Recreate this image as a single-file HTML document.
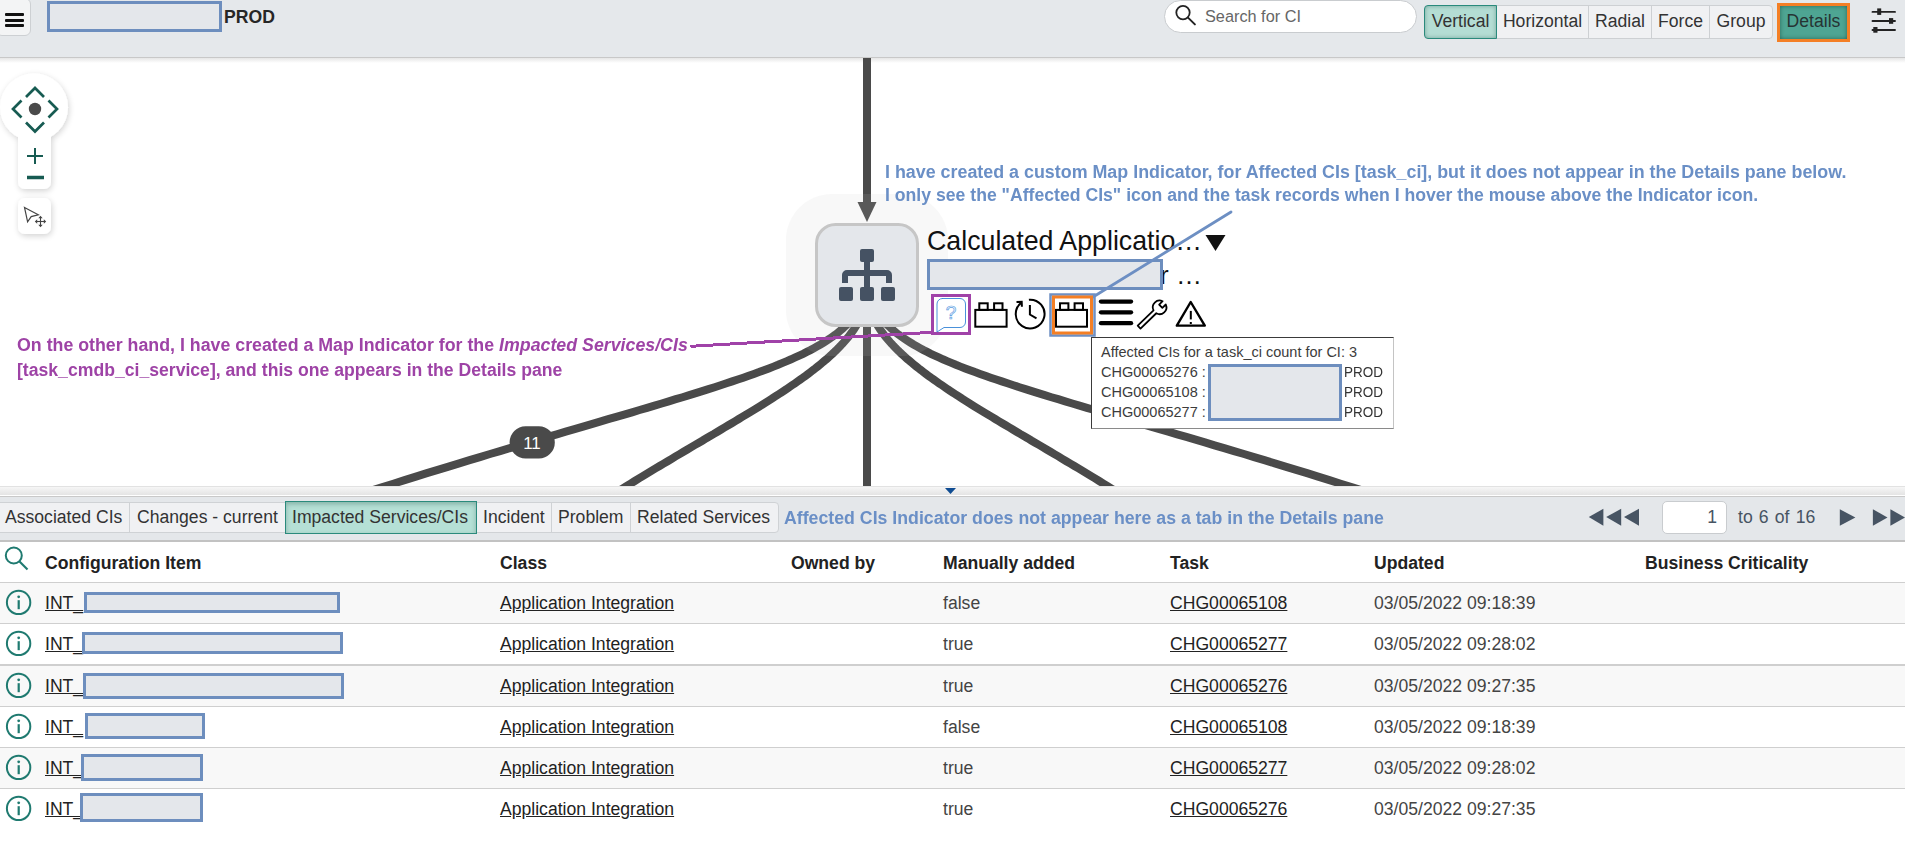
<!DOCTYPE html>
<html><head><meta charset="utf-8">
<style>
*{box-sizing:border-box}
html,body{margin:0;padding:0}
body{width:1905px;height:859px;overflow:hidden;position:relative;background:#fff;font-family:"Liberation Sans",sans-serif;color:#333}
.a{position:absolute}
#hdr{left:0;top:0;width:1905px;height:58px;background:#e5e8eb;border-bottom:1px solid #c8c8c8}
.redact{position:absolute;border:3px solid #6d8ebe;background:#e4e7eb}
.btn{position:absolute;top:5px;height:34px;font-size:17.6px;line-height:32px;color:#333;text-align:center}
.tab{position:absolute;top:502px;height:31px;font-size:17.6px;line-height:30px;color:#333;white-space:nowrap}
.th{position:absolute;top:552.6px;font-size:17.6px;font-weight:bold;color:#222;line-height:20px;white-space:nowrap}
.td{position:absolute;font-size:17.6px;color:#444;line-height:20px;white-space:nowrap}
.u{text-decoration:underline;color:#222}
.row{position:absolute;left:0;width:1905px;height:41px;border-bottom:1px solid #cfcfcf}
.ann{font-size:18px;font-weight:bold;line-height:24px;white-space:nowrap;transform-origin:0 0}
</style></head><body>
<div id="hdr" class="a"></div>
<!-- hamburger -->
<div class="a" style="left:-4px;top:-2px;width:35px;height:38px;background:#f3f4f5;border:1px solid #cdd0d3;border-radius:6px"></div>
<div class="a" style="left:5px;top:13px;width:19px;height:3px;background:#111;border-radius:1px"></div>
<div class="a" style="left:5px;top:19px;width:19px;height:3px;background:#111;border-radius:1px"></div>
<div class="a" style="left:5px;top:24px;width:19px;height:3px;background:#111;border-radius:1px"></div>
<div class="redact" style="left:47px;top:1px;width:175px;height:31px"></div>
<div class="a" style="left:224px;top:7px;font-size:17.6px;font-weight:bold;color:#262626;line-height:20px">PROD</div>
<!-- search -->
<div class="a" style="left:1164px;top:0px;width:253px;height:33px;background:#fff;border:1px solid #c9cccf;border-radius:17px"></div>
<svg class="a" style="left:1170px;top:2px" width="32" height="28"><circle cx="13" cy="10.6" r="6.7" fill="none" stroke="#222" stroke-width="1.8"/><line x1="18" y1="15.6" x2="24.9" y2="22.4" stroke="#222" stroke-width="2" stroke-linecap="round"/></svg>
<div class="a" style="left:1205px;top:6.4px;font-size:16.3px;line-height:20px;color:#666">Search for CI</div>
<!-- layout buttons -->
<div class="a" style="left:1424px;top:5px;width:349px;height:34px;background:#f0f1f3;border:1px solid #cdd0d3;border-radius:4px"></div>
<div class="a" style="left:1424px;top:5px;width:73px;height:34px;background:#b4ddd4;border:1px solid #2a8a7c;border-radius:4px 0 0 4px;box-shadow:inset 0 0 4px rgba(0,60,50,.35)"></div>
<div class="a" style="left:1588px;top:6px;width:1px;height:32px;background:#cdd0d3"></div>
<div class="a" style="left:1651px;top:6px;width:1px;height:32px;background:#cdd0d3"></div>
<div class="a" style="left:1709px;top:6px;width:1px;height:32px;background:#cdd0d3"></div>
<div class="btn" style="left:1424px;width:73px">Vertical</div>
<div class="btn" style="left:1497px;width:91px">Horizontal</div>
<div class="btn" style="left:1589px;width:62px">Radial</div>
<div class="btn" style="left:1652px;width:57px">Force</div>
<div class="btn" style="left:1710px;width:62px">Group</div>
<div class="a" style="left:1777px;top:3px;width:73px;height:39px;border:3px solid #f47f25;background:#4ea593;box-shadow:inset 0 0 4px rgba(0,40,30,.5)"></div>
<div class="btn" style="left:1777px;width:73px;top:5px;color:#263433">Details</div>
<!-- settings icon -->
<svg class="a" style="left:1868px;top:6px" width="32" height="30">
<g stroke="#222" stroke-width="1.9" stroke-linecap="round"><line x1="4.5" y1="5.9" x2="27" y2="5.9"/><line x1="4.5" y1="15" x2="27" y2="15"/><line x1="4.5" y1="24" x2="27" y2="24"/></g>
<g fill="#222"><rect x="9.2" y="2.4" width="4" height="6.5"/><rect x="21" y="12.1" width="4.2" height="5.7"/><rect x="5.3" y="21" width="4.2" height="5.7"/></g>
</svg>

<!-- graph -->
<svg class="a" style="left:0;top:0" width="1905" height="486" viewBox="0 0 1905 486">
<defs><clipPath id="gc"><rect x="0" y="58" width="1905" height="428"/></clipPath>
<filter id="sh" x="-30%" y="-30%" width="160%" height="160%"><feGaussianBlur in="SourceAlpha" stdDeviation="3"/><feOffset dx="1" dy="2"/><feComponentTransfer><feFuncA type="linear" slope="0.18"/></feComponentTransfer><feMerge><feMergeNode/><feMergeNode in="SourceGraphic"/></feMerge></filter>
</defs>
<g clip-path="url(#gc)">
<defs><linearGradient id="hs" x1="0" y1="0" x2="0" y2="1"><stop offset="0" stop-color="#e6e6e6"/><stop offset="1" stop-color="#fff"/></linearGradient></defs><rect x="0" y="58" width="1905" height="5" fill="url(#hs)"/>
<g fill="none" stroke="#4a4a4a" stroke-width="8"><path d="M867.0,275.0 L867.0,277.9 L866.8,280.8 L866.6,283.6 L866.2,286.4 L865.8,289.1 L865.2,291.7 L864.6,294.3 L863.9,296.9 L863.0,299.4 L862.1,301.9 L861.0,304.3 L859.9,306.7 L858.6,309.1 L857.2,311.4 L855.8,313.7 L854.2,315.9 L852.5,318.1 L850.7,320.3 L848.8,322.5 L846.8,324.6 L844.7,326.7 L842.5,328.7 L840.1,330.8 L837.7,332.8 L835.1,334.8 L832.4,336.7 L829.6,338.7 L826.7,340.6 L823.7,342.5 L820.5,344.5 L817.3,346.3 L813.9,348.2 L810.4,350.1 L806.8,351.9 L803.1,353.8 L799.2,355.6 L795.2,357.4 L791.1,359.3 L786.9,361.1 L782.6,362.9 L778.1,364.8 L773.5,366.6 L768.8,368.4 L764.0,370.2 L759.0,372.1 L753.9,373.9 L748.7,375.8 L743.3,377.7 L737.8,379.5 L732.2,381.4 L726.5,383.3 L720.6,385.2 L714.6,387.2 L708.5,389.1 L702.2,391.1 L695.8,393.1 L689.3,395.1 L682.6,397.2 L675.8,399.2 L668.8,401.3 L661.7,403.5 L654.5,405.6 L647.1,407.8 L639.6,410.0 L632.0,412.3 L624.2,414.6 L616.3,416.9 L608.2,419.2 L600.0,421.6 L591.6,424.1 L583.1,426.6 L574.5,429.1 L565.7,431.7 L556.8,434.3 L547.7,436.9 L538.4,439.7 L529.1,442.4 L519.5,445.3 L509.9,448.1 L500.0,451.1 L490.0,454.0 L479.9,457.1 L469.6,460.2 L459.2,463.3 L448.6,466.6 L437.8,469.9 L426.9,473.2 L415.9,476.6 L404.6,480.1 L393.3,483.7 L381.7,487.3 L370.0,491.0 L358.2,494.8 L346.2,498.6 L334.0,502.5 L321.7,506.5 L309.2,510.6 L296.5,514.8 L283.7,519.0 L93.8,581.8"/><path d="M867.0,290.0 L867.0,292.1 L866.9,294.1 L866.7,296.1 L866.5,298.2 L866.2,300.2 L865.8,302.2 L865.4,304.2 L864.9,306.2 L864.3,308.1 L863.7,310.1 L863.0,312.0 L862.2,314.0 L861.4,315.9 L860.5,317.9 L859.6,319.8 L858.6,321.7 L857.5,323.6 L856.4,325.5 L855.2,327.4 L854.0,329.3 L852.7,331.2 L851.3,333.0 L849.9,334.9 L848.5,336.8 L846.9,338.7 L845.4,340.5 L843.7,342.4 L842.0,344.2 L840.3,346.1 L838.5,348.0 L836.6,349.8 L834.7,351.7 L832.8,353.5 L830.8,355.4 L828.7,357.2 L826.6,359.1 L824.4,360.9 L822.2,362.8 L820.0,364.7 L817.7,366.5 L815.3,368.4 L812.9,370.2 L810.5,372.1 L808.0,374.0 L805.4,375.9 L802.8,377.8 L800.2,379.6 L797.5,381.5 L794.8,383.4 L792.0,385.3 L789.2,387.2 L786.4,389.2 L783.5,391.1 L780.5,393.0 L777.6,395.0 L774.5,396.9 L771.5,398.9 L768.4,400.8 L765.2,402.8 L762.1,404.8 L758.9,406.8 L755.6,408.8 L752.3,410.8 L749.0,412.8 L745.6,414.9 L742.2,416.9 L738.8,419.0 L735.3,421.1 L731.8,423.2 L728.3,425.3 L724.7,427.4 L721.2,429.5 L717.5,431.7 L713.9,433.9 L710.2,436.0 L706.4,438.2 L702.7,440.5 L698.9,442.7 L695.1,444.9 L691.3,447.2 L687.4,449.5 L683.5,451.8 L679.6,454.1 L675.6,456.4 L671.7,458.8 L667.7,461.2 L663.6,463.6 L659.6,466.0 L655.5,468.4 L651.4,470.9 L647.3,473.4 L643.2,475.9 L639.0,478.4 L634.8,481.0 L630.6,483.6 L626.4,486.2 L622.1,488.8 L617.9,491.4 L613.6,494.1 L443.9,600.0"/><path d="M867.0,275.0 L867.0,277.9 L867.2,280.8 L867.4,283.6 L867.8,286.4 L868.2,289.1 L868.8,291.7 L869.4,294.3 L870.1,296.9 L871.0,299.4 L871.9,301.9 L873.0,304.3 L874.1,306.7 L875.4,309.1 L876.8,311.4 L878.2,313.7 L879.8,315.9 L881.5,318.1 L883.3,320.3 L885.2,322.5 L887.2,324.6 L889.3,326.7 L891.5,328.7 L893.9,330.8 L896.3,332.8 L898.9,334.8 L901.6,336.7 L904.4,338.7 L907.3,340.6 L910.3,342.5 L913.5,344.5 L916.7,346.3 L920.1,348.2 L923.6,350.1 L927.2,351.9 L930.9,353.8 L934.8,355.6 L938.8,357.4 L942.9,359.3 L947.1,361.1 L951.4,362.9 L955.9,364.8 L960.5,366.6 L965.2,368.4 L970.0,370.2 L975.0,372.1 L980.1,373.9 L985.3,375.8 L990.7,377.7 L996.2,379.5 L1001.8,381.4 L1007.5,383.3 L1013.4,385.2 L1019.4,387.2 L1025.5,389.1 L1031.8,391.1 L1038.2,393.1 L1044.7,395.1 L1051.4,397.2 L1058.2,399.2 L1065.2,401.3 L1072.3,403.5 L1079.5,405.6 L1086.9,407.8 L1094.4,410.0 L1102.0,412.3 L1109.8,414.6 L1117.7,416.9 L1125.8,419.2 L1134.0,421.6 L1142.4,424.1 L1150.9,426.6 L1159.5,429.1 L1168.3,431.7 L1177.2,434.3 L1186.3,436.9 L1195.6,439.7 L1204.9,442.4 L1214.5,445.3 L1224.1,448.1 L1234.0,451.1 L1244.0,454.0 L1254.1,457.1 L1264.4,460.2 L1274.8,463.3 L1285.4,466.6 L1296.2,469.9 L1307.1,473.2 L1318.1,476.6 L1329.4,480.1 L1340.7,483.7 L1352.3,487.3 L1364.0,491.0 L1375.8,494.8 L1387.8,498.6 L1400.0,502.5 L1412.3,506.5 L1424.8,510.6 L1437.5,514.8 L1450.3,519.0 L1640.2,581.8"/><path d="M867.0,290.0 L867.0,292.1 L867.1,294.1 L867.3,296.1 L867.5,298.2 L867.8,300.2 L868.2,302.2 L868.6,304.2 L869.1,306.2 L869.7,308.1 L870.3,310.1 L871.0,312.0 L871.8,314.0 L872.6,315.9 L873.5,317.9 L874.4,319.8 L875.4,321.7 L876.5,323.6 L877.6,325.5 L878.8,327.4 L880.0,329.3 L881.3,331.2 L882.7,333.0 L884.1,334.9 L885.5,336.8 L887.1,338.7 L888.6,340.5 L890.3,342.4 L892.0,344.2 L893.7,346.1 L895.5,348.0 L897.4,349.8 L899.3,351.7 L901.2,353.5 L903.2,355.4 L905.3,357.2 L907.4,359.1 L909.6,360.9 L911.8,362.8 L914.0,364.7 L916.3,366.5 L918.7,368.4 L921.1,370.2 L923.5,372.1 L926.0,374.0 L928.6,375.9 L931.2,377.8 L933.8,379.6 L936.5,381.5 L939.2,383.4 L942.0,385.3 L944.8,387.2 L947.6,389.2 L950.5,391.1 L953.5,393.0 L956.4,395.0 L959.5,396.9 L962.5,398.9 L965.6,400.8 L968.8,402.8 L971.9,404.8 L975.1,406.8 L978.4,408.8 L981.7,410.8 L985.0,412.8 L988.4,414.9 L991.8,416.9 L995.2,419.0 L998.7,421.1 L1002.2,423.2 L1005.7,425.3 L1009.3,427.4 L1012.8,429.5 L1016.5,431.7 L1020.1,433.9 L1023.8,436.0 L1027.6,438.2 L1031.3,440.5 L1035.1,442.7 L1038.9,444.9 L1042.7,447.2 L1046.6,449.5 L1050.5,451.8 L1054.4,454.1 L1058.4,456.4 L1062.3,458.8 L1066.3,461.2 L1070.4,463.6 L1074.4,466.0 L1078.5,468.4 L1082.6,470.9 L1086.7,473.4 L1090.8,475.9 L1095.0,478.4 L1099.2,481.0 L1103.4,483.6 L1107.6,486.2 L1111.9,488.8 L1116.1,491.4 L1120.4,494.1 L1290.1,600.0"/><line x1="867" y1="300" x2="867" y2="500"/><line x1="867" y1="58" x2="867" y2="205"/></g>
<polygon points="857.5,202 876.5,202 867,222" fill="#4a4a4a"/>
<rect x="786" y="194" width="162" height="162" rx="46" fill="#c8c8c8" fill-opacity="0.127"/>
<rect x="816.5" y="224.5" width="101" height="101" rx="19" fill="#e4e7eb" stroke="#c6c6c6" stroke-width="3"/>
<g fill="#455263">
<rect x="860" y="249" width="14" height="13" rx="2"/>
<rect x="864" y="260" width="6" height="30"/>
<path d="M842,283 V275 a5,5 0 0 1 5,-5 H887 a5,5 0 0 1 5,5 V283 h-6 v-7 h-38 v7z"/>
<rect x="839" y="287" width="14" height="14" rx="2"/>
<rect x="860" y="287" width="14" height="14" rx="2"/>
<rect x="881" y="287" width="14" height="14" rx="2"/>
</g>
<rect x="509.6" y="426.3" width="45.2" height="32.2" rx="16" fill="#4a4a4a"/>
<text x="532" y="448.5" font-family="Liberation Sans" font-size="17" fill="#fff" text-anchor="middle">11</text>
</g>
<!-- nav control -->
<g filter="url(#sh)">
<circle cx="34" cy="107.3" r="34" fill="#fff"/>
<rect x="18" y="120" width="33" height="69" rx="7" fill="#fff"/>
<rect x="18" y="198" width="33" height="36" rx="7" fill="#fff"/>
</g>
<g fill="none" stroke="#175b52" stroke-width="2.7" stroke-linecap="butt">
<polyline points="26,97 35,88 44,97"/><polyline points="26,122.5 35,131.5 44,122.5"/>
<polyline points="21.5,100.5 13,109 21.5,117.5"/><polyline points="48.5,100.5 57,109 48.5,117.5"/>
<line x1="27" y1="156" x2="43" y2="156" stroke-width="2"/><line x1="35" y1="148" x2="35" y2="164" stroke-width="2"/>
<line x1="27" y1="177.5" x2="44" y2="177.5" stroke-width="3.5"/>
</g>
<circle cx="35" cy="109" r="6.2" fill="#4a4a4a"/>
<g fill="none" stroke="#444" stroke-width="1.2" stroke-linejoin="miter"><path d="M24.5,207.5 L38.3,214.8 L31.2,216.6 L27.6,221.8 Z"/></g>
<g stroke="#444" stroke-width="1.1" fill="#444"><line x1="36" y1="221.5" x2="45" y2="221.5"/><line x1="40.5" y1="217" x2="40.5" y2="226"/></g>
<path d="M40.5,215.8 l-2.2,2.4 h4.4z M40.5,227.2 l-2.2,-2.4 h4.4z M34.8,221.5 l2.4,-2.2 v4.4z M46.2,221.5 l-2.4,-2.2 v4.4z" fill="#444"/>
</svg>

<!-- node labels -->
<div class="a" id="ttl" style="left:927px;top:226px;font-size:26.75px;line-height:30px;color:#111;white-space:nowrap">Calculated Applicatio…</div>
<svg class="a" style="left:1204px;top:233px" width="24" height="20"><polygon points="1.5,2 21.5,2 11.5,18" fill="#111"/></svg>
<div class="a" style="left:1160px;top:263px;font-size:26px;line-height:24px;color:#111;white-space:nowrap">r …</div>
<div class="redact" style="left:927px;top:259px;width:236px;height:31px"></div>
<!-- indicator icons -->
<svg class="a" style="left:0;top:0" width="1905" height="486" viewBox="0 0 1905 486">
<g fill="none">
<path d="M1231,212 L1093,297" stroke="#6d8fc3" stroke-width="2.8" stroke-linecap="round"/>
<path d="M690.5,346.3 L932,332.3" stroke="#a042a8" stroke-width="3" shape-rendering="crispEdges"/>
<rect x="932.5" y="295.5" width="37" height="38" stroke="#a042a8" stroke-width="3" fill="#fff"/>
<path d="M942,298.5 H960 a5.5,5.5 0 0 1 5.5,5.5 V322 a5.5,5.5 0 0 1 -5.5,5.5 H944 L937,332 V304 a5.5,5.5 0 0 1 5.5,-5.5z" stroke="#3585d6" stroke-width="0.9"/>
<text x="951" y="319.3" font-family="Liberation Sans" font-size="19" text-anchor="middle" fill="#fff" stroke="#5b9de2" stroke-width="0.7">?</text>
<g stroke="#000" stroke-width="2">
<rect x="975.3" y="309.9" width="31.3" height="16.8"/><rect x="979.3" y="303.3" width="8.4" height="6.6"/><rect x="994.1" y="303.3" width="8.4" height="6.6"/>
</g>
<g stroke="#000" stroke-width="2">
<path d="M1028.9,299.7 A14.4,14.4 0 1 1 1021.4,302.6"/>
<path d="M1016.5,302 L1021.7,301.7 L1021.9,306.7"/>
<polyline points="1029.9,305 1029.9,314.5 1036.5,318.3"/>
</g>
<rect x="1050.5" y="294.5" width="44" height="41" stroke="#6f90c3" stroke-width="2.5"/>
<rect x="1053.5" y="297" width="38" height="36" stroke="#f47f25" stroke-width="3"/>
<g stroke="#000" stroke-width="2">
<rect x="1056" y="309.9" width="31" height="16.8"/><rect x="1060" y="303.3" width="8.4" height="6.6"/><rect x="1074.6" y="303.3" width="8.4" height="6.6"/>
</g>
<g stroke="#000" stroke-width="4.2" stroke-linecap="round">
<line x1="1100.9" y1="301.6" x2="1131.1" y2="301.6"/><line x1="1100.9" y1="312.3" x2="1131.1" y2="312.3"/><line x1="1100.9" y1="323.2" x2="1131.1" y2="323.2"/>
</g>
<g transform="translate(1159.6,307.3) rotate(-44)"><path d="M-28.5,2 L-6.5,2 A6.8,6.8 0 0 0 6.4,2.3 L1.6,2.3 L1.6,-2.3 L6.4,-2.3 A6.8,6.8 0 0 0 -6.5,-2 L-28.5,-2 Z" stroke="#000" stroke-width="1.8" stroke-linejoin="round" fill="#fff"/></g>
<path d="M1190.7,302 L1176.8,325.6 H1204.8 Z" stroke="#000" stroke-width="2.4" stroke-linejoin="round"/>
</g>
<rect x="1189.8" y="310.9" width="2" height="8.5" fill="#000"/><rect x="1189.8" y="322" width="2" height="2" fill="#000"/>
</svg>
<!-- annotations -->
<div class="a ann" id="a1" style="transform:scaleX(0.9923);left:885px;top:159.5px;color:#6a8fc6">I have created a custom Map Indicator, for Affected CIs [task_ci], but it does not appear in the Details pane below.</div>
<div class="a ann" id="a2" style="transform:scaleX(0.9797);left:885px;top:183.4px;color:#6a8fc6">I only see the "Affected CIs" icon and the task records when I hover the mouse above the Indicator icon.</div>
<div class="a ann" id="a3" style="transform:scaleX(0.9876);left:17px;top:333.3px;color:#9e43a6">On the other hand, I have created a Map Indicator for the <i>Impacted Services/CIs</i></div>
<div class="a ann" id="a4" style="transform:scaleX(0.9786);left:17px;top:357.5px;color:#9e43a6">[task_cmdb_ci_service], and this one appears in the Details pane</div>
<!-- tooltip -->
<div class="a" style="left:1091px;top:337px;width:303px;height:92px;background:#fff;border:1px solid #3a3a3a;border-bottom-color:#8a8a8a;border-right-color:#c4c4c4"></div>
<div class="a" style="left:1101px;top:342px;font-size:14.5px;line-height:20px;color:#3c3c3c;white-space:nowrap">Affected CIs for a task_ci count for CI: 3<br>CHG00065276 :<br>CHG00065108 :<br>CHG00065277 :</div>
<div class="a" style="left:1344px;top:362px;transform:scaleX(0.93);transform-origin:0 0;font-size:14.5px;line-height:20px;color:#333;white-space:nowrap">PROD<br>PROD<br>PROD</div>
<div class="redact" style="left:1208px;top:364px;width:134px;height:57px"></div>
<!-- splitter -->
<div class="a" style="left:0;top:486px;width:1905px;height:9px;background:linear-gradient(#f6f6f6,#e4e4e4);border-top:1px solid #e2e2e2"></div><div class="a" style="left:0;top:495px;width:1905px;height:1px;background:#fff"></div>
<svg class="a" style="left:944px;top:486px" width="14" height="10"><polygon points="1,2 12,2 6.5,8" fill="#0f4c92"/></svg>
<!-- tabs bar -->
<div class="a" style="left:0;top:496px;width:1905px;height:46px;background:#e4e7ea;border-top:1px solid #c9c9c9;border-bottom:2px solid #c2c2c2"></div>
<div class="a" style="left:-5px;top:502px;width:784px;height:31px;background:#f0f1f3;border:1px solid #cfd2d5;border-radius:4px"></div>
<div class="a" style="left:129px;top:503px;width:1px;height:29px;background:#cfd2d5"></div>
<div class="a" style="left:551px;top:503px;width:1px;height:29px;background:#cfd2d5"></div>
<div class="a" style="left:630px;top:503px;width:1px;height:29px;background:#cfd2d5"></div>
<div class="a" style="left:285px;top:501px;width:192px;height:33px;background:#b5e0d6;border:1px solid #2a8a7c;box-shadow:inset 0 2px 5px rgba(0,50,40,.28)"></div>
<div class="tab" style="left:5px">Associated CIs</div>
<div class="tab" style="left:137px">Changes - current</div>
<div class="tab" style="left:292px">Impacted Services/CIs</div>
<div class="tab" style="left:483px">Incident</div>
<div class="tab" style="left:558px">Problem</div>
<div class="tab" style="left:637px">Related Services</div>
<div class="a ann" id="a5" style="transform:scaleX(0.9847);left:784px;top:505.7px;color:#6a8fc6">Affected CIs Indicator does not appear here as a tab in the Details pane</div>
<svg class="a" style="left:1585px;top:505px" width="60" height="24"><g fill="#475463"><polygon points="3.8,12 18.4,3.8 18.4,20.8"/><polygon points="21.2,12 36.2,3.8 36.2,20.8"/><polygon points="39,12 54,3.8 54,20.8"/></g></svg>
<div class="a" style="left:1662px;top:501px;width:65px;height:33px;background:#fff;border:1px solid #c9cccf;border-radius:5px"></div>
<div class="a" style="left:1662px;top:507px;width:55px;text-align:right;font-size:17.6px;line-height:20px;color:#475463">1</div>
<div class="a" style="left:1738px;top:507px;font-size:17.6px;line-height:20px;color:#475463;word-spacing:1.3px">to 6 of 16</div>
<svg class="a" style="left:1835px;top:505px" width="70" height="24"><g fill="#475463"><polygon points="4.8,4.2 20.4,12.5 4.8,20.7"/><polygon points="37.9,4.2 52.5,12.5 37.9,20.7"/><polygon points="55.4,4.2 70,12.5 55.4,20.7"/></g></svg>

<!-- table -->
<svg class="a" style="left:0;top:542px" width="40" height="40"><circle cx="13.8" cy="13.5" r="8" fill="none" stroke="#1f7a70" stroke-width="2"/><line x1="19.5" y1="19.5" x2="27.5" y2="27.5" stroke="#1f7a70" stroke-width="2.2"/></svg>
<div class="th" style="left:45px">Configuration Item</div>
<div class="th" style="left:500px">Class</div>
<div class="th" style="left:791px">Owned by</div>
<div class="th" style="left:943px">Manually added</div>
<div class="th" style="left:1170px">Task</div>
<div class="th" style="left:1374px">Updated</div>
<div class="th" style="left:1645px">Business Criticality</div>
<div class="a" style="left:0;top:582px;width:1905px;height:1px;background:#cfcfcf"></div>
<div class="a" style="left:0;top:583px;width:1905px;height:40px;background:#f8f8f8"></div>
<div class="a" style="left:0;top:623px;width:1905px;height:1px;background:#cfcfcf"></div>
<svg class="a" style="left:4px;top:588px" width="30" height="30"><circle cx="14.6" cy="14.4" r="11.7" fill="none" stroke="#1f7a70" stroke-width="2"/><rect x="13.6" y="12.2" width="2.2" height="9" fill="#1f7a70"/><circle cx="14.7" cy="8.8" r="1.4" fill="#1f7a70"/></svg>
<div class="td u" style="left:45px;top:593.1999999999999px">INT_</div>
<div class="redact" style="left:84px;top:592px;width:256px;height:21px"></div>
<div class="td u" style="left:500px;top:593.1999999999999px">Application Integration</div>
<div class="td" style="left:943px;top:593.1999999999999px">false</div>
<div class="td u" style="left:1170px;top:593.1999999999999px">CHG00065108</div>
<div class="td" style="left:1374px;top:593.1999999999999px">03/05/2022 09:18:39</div>
<div class="a" style="left:0;top:624px;width:1905px;height:40px;background:#fff"></div>
<div class="a" style="left:0;top:664px;width:1905px;height:2px;background:#cfcfcf"></div>
<svg class="a" style="left:4px;top:629px" width="30" height="30"><circle cx="14.6" cy="14.4" r="11.7" fill="none" stroke="#1f7a70" stroke-width="2"/><rect x="13.6" y="12.2" width="2.2" height="9" fill="#1f7a70"/><circle cx="14.7" cy="8.8" r="1.4" fill="#1f7a70"/></svg>
<div class="td u" style="left:45px;top:634.1999999999999px">INT_</div>
<div class="redact" style="left:81.5px;top:632px;width:261px;height:22px"></div>
<div class="td u" style="left:500px;top:634.1999999999999px">Application Integration</div>
<div class="td" style="left:943px;top:634.1999999999999px">true</div>
<div class="td u" style="left:1170px;top:634.1999999999999px">CHG00065277</div>
<div class="td" style="left:1374px;top:634.1999999999999px">03/05/2022 09:28:02</div>
<div class="a" style="left:0;top:666px;width:1905px;height:40px;background:#f8f8f8"></div>
<div class="a" style="left:0;top:706px;width:1905px;height:1px;background:#cfcfcf"></div>
<svg class="a" style="left:4px;top:671px" width="30" height="30"><circle cx="14.6" cy="14.4" r="11.7" fill="none" stroke="#1f7a70" stroke-width="2"/><rect x="13.6" y="12.2" width="2.2" height="9" fill="#1f7a70"/><circle cx="14.7" cy="8.8" r="1.4" fill="#1f7a70"/></svg>
<div class="td u" style="left:45px;top:676.1999999999999px">INT_</div>
<div class="redact" style="left:82.5px;top:672.5px;width:261px;height:26px"></div>
<div class="td u" style="left:500px;top:676.1999999999999px">Application Integration</div>
<div class="td" style="left:943px;top:676.1999999999999px">true</div>
<div class="td u" style="left:1170px;top:676.1999999999999px">CHG00065276</div>
<div class="td" style="left:1374px;top:676.1999999999999px">03/05/2022 09:27:35</div>
<div class="a" style="left:0;top:707px;width:1905px;height:40px;background:#fff"></div>
<div class="a" style="left:0;top:747px;width:1905px;height:1px;background:#cfcfcf"></div>
<svg class="a" style="left:4px;top:712px" width="30" height="30"><circle cx="14.6" cy="14.4" r="11.7" fill="none" stroke="#1f7a70" stroke-width="2"/><rect x="13.6" y="12.2" width="2.2" height="9" fill="#1f7a70"/><circle cx="14.7" cy="8.8" r="1.4" fill="#1f7a70"/></svg>
<div class="td u" style="left:45px;top:717.1999999999999px">INT_</div>
<div class="redact" style="left:85px;top:713px;width:120px;height:26px"></div>
<div class="td u" style="left:500px;top:717.1999999999999px">Application Integration</div>
<div class="td" style="left:943px;top:717.1999999999999px">false</div>
<div class="td u" style="left:1170px;top:717.1999999999999px">CHG00065108</div>
<div class="td" style="left:1374px;top:717.1999999999999px">03/05/2022 09:18:39</div>
<div class="a" style="left:0;top:748px;width:1905px;height:40px;background:#f8f8f8"></div>
<div class="a" style="left:0;top:788px;width:1905px;height:1px;background:#cfcfcf"></div>
<svg class="a" style="left:4px;top:753px" width="30" height="30"><circle cx="14.6" cy="14.4" r="11.7" fill="none" stroke="#1f7a70" stroke-width="2"/><rect x="13.6" y="12.2" width="2.2" height="9" fill="#1f7a70"/><circle cx="14.7" cy="8.8" r="1.4" fill="#1f7a70"/></svg>
<div class="td u" style="left:45px;top:758.1999999999999px">INT_</div>
<div class="redact" style="left:80.5px;top:754px;width:122.5px;height:27px"></div>
<div class="td u" style="left:500px;top:758.1999999999999px">Application Integration</div>
<div class="td" style="left:943px;top:758.1999999999999px">true</div>
<div class="td u" style="left:1170px;top:758.1999999999999px">CHG00065277</div>
<div class="td" style="left:1374px;top:758.1999999999999px">03/05/2022 09:28:02</div>
<div class="a" style="left:0;top:789px;width:1905px;height:40px;background:#fff"></div>
<svg class="a" style="left:4px;top:794px" width="30" height="30"><circle cx="14.6" cy="14.4" r="11.7" fill="none" stroke="#1f7a70" stroke-width="2"/><rect x="13.6" y="12.2" width="2.2" height="9" fill="#1f7a70"/><circle cx="14.7" cy="8.8" r="1.4" fill="#1f7a70"/></svg>
<div class="td u" style="left:45px;top:799.1999999999999px">INT_</div>
<div class="redact" style="left:80px;top:793px;width:123px;height:29px"></div>
<div class="td u" style="left:500px;top:799.1999999999999px">Application Integration</div>
<div class="td" style="left:943px;top:799.1999999999999px">true</div>
<div class="td u" style="left:1170px;top:799.1999999999999px">CHG00065276</div>
<div class="td" style="left:1374px;top:799.1999999999999px">03/05/2022 09:27:35</div>
</body></html>
